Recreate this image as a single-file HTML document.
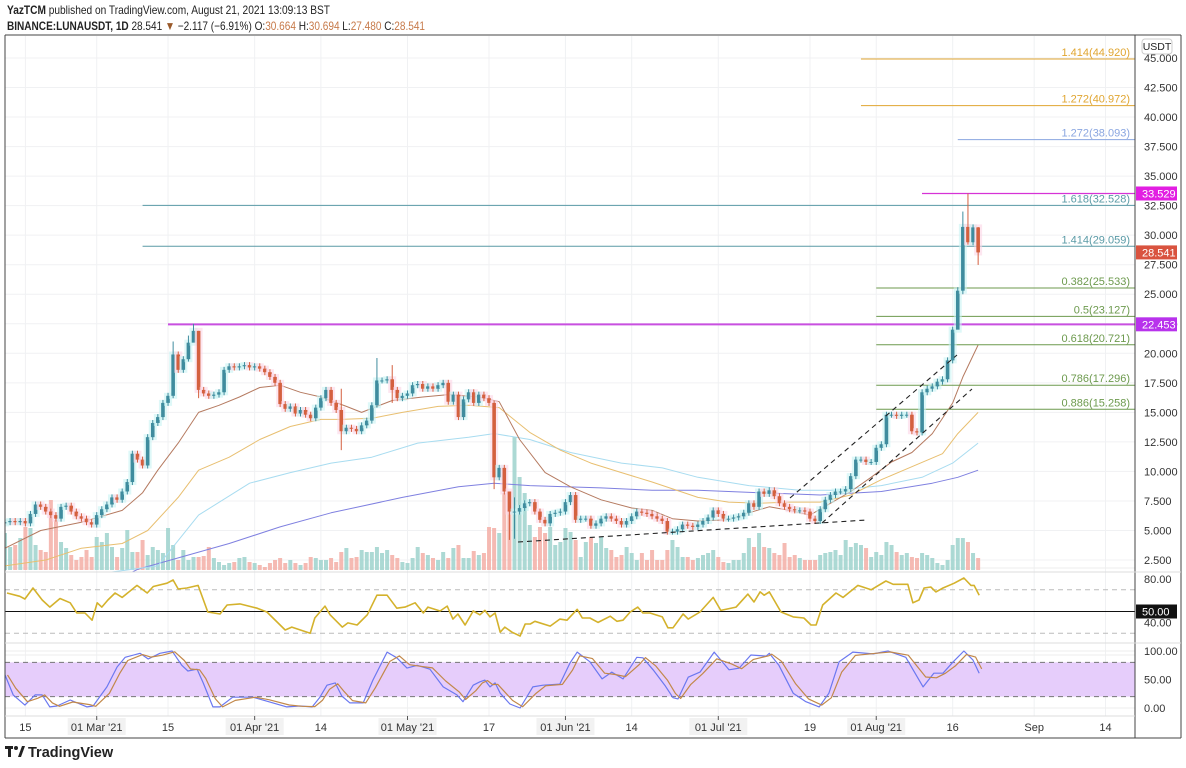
<!DOCTYPE html>
<html><head><meta charset="utf-8">
<style>
html,body{margin:0;padding:0;background:#fff;}
svg{display:block;font-family:"Liberation Sans",sans-serif;}
</style></head>
<body>
<svg id="chart" width="1186" height="768" viewBox="0 0 1186 768" xmlns="http://www.w3.org/2000/svg">
  <rect x="0" y="0" width="1186" height="768" fill="#fff"/>
  <text x="7" y="14" font-size="12" fill="#222" textLength="323" lengthAdjust="spacingAndGlyphs"><tspan font-weight="bold">YazTCM</tspan> published on TradingView.com, August 21, 2021 13:09:13 BST</text>
  <text x="7" y="30" font-size="12" fill="#222" textLength="418" lengthAdjust="spacingAndGlyphs"><tspan font-weight="bold">BINANCE:LUNAUSDT, 1D</tspan>  28.541 <tspan fill="#9a5a2a">▼</tspan> −2.117 (−6.91%) O:<tspan fill="#c77a4a">30.664</tspan> H:<tspan fill="#c77a4a">30.694</tspan> L:<tspan fill="#c77a4a">27.480</tspan> C:<tspan fill="#c77a4a">28.541</tspan></text>
  <g id="grid"></g>
  <defs>
    <clipPath id="mainClip"><rect x="5" y="36" width="1130" height="536"/></clipPath>
    <clipPath id="rsiClip"><rect x="5" y="573" width="1130" height="70"/></clipPath>
    <clipPath id="stClip"><rect x="5" y="644" width="1130" height="72"/></clipPath>
  </defs>
  <g id="stochBand"></g>
  <g id="volumes" clip-path="url(#mainClip)"></g>
  <g id="mas" clip-path="url(#mainClip)"></g>
  <g id="levels"></g>
  <g id="candles" clip-path="url(#mainClip)"></g>
  <g id="trend"></g>
  <g id="rsi" clip-path="url(#rsiClip)"></g>
  <g id="stoch" clip-path="url(#stClip)"></g>
  <g id="frame"></g>
  <g id="axes"></g>
  <g>
    <rect x="5" y="746" width="8" height="3" fill="#222"/><rect x="8" y="746" width="3" height="11" fill="#222"/>
    <circle cx="16" cy="748" r="2" fill="#222"/><polygon points="18,757 22,746 25,746 21,757" fill="#222"/>
    <text x="28" y="757" font-size="14.5" font-weight="bold" fill="#222">TradingView</text>
  </g>
</svg>
<script>
const closes=[5.7,5.8,5.7,5.8,5.6,6.4,7.2,7.0,6.6,6.3,6.0,7.0,7.1,6.6,6.2,6.0,5.7,5.5,
6.3,6.8,7.2,7.8,7.6,8.3,9.1,11.5,11.0,10.5,12.9,14.1,14.6,15.8,
16.4,19.9,18.6,19.5,20.9,21.9,16.9,16.6,16.4,16.5,16.7,18.6,18.9,18.8,18.9,19.0,18.8,18.9,
18.7,18.4,18.0,17.5,15.7,15.3,15.5,14.9,15.2,14.8,14.5,15.4,16.2,16.9,15.8,15.2,13.4,13.7,13.6,13.4,
13.9,14.3,15.6,17.7,17.7,17.8,16.9,16.2,16.4,16.6,17.3,17.4,17.0,17.2,17.0,17.3,17.5,15.9,16.5,14.6,
16.1,16.7,15.8,16.5,16.2,15.8,9.5,10.3,8.3,6.6,6.6,6.9,7.3,7.4,6.6,5.9,5.6,6.4,6.5,6.6,
7.4,8.0,5.9,6.0,6.0,5.4,5.6,6.0,6.2,6.0,5.8,5.5,5.8,6.2,6.6,6.5,6.4,6.2,6.0,5.8,
4.9,4.9,5.1,5.5,5.4,5.3,5.5,5.8,6.1,6.7,6.4,6.0,6.0,6.1,6.2,6.5,7.3,7.0,8.3,8.1,
8.4,7.9,7.3,7.0,6.8,6.7,6.7,6.6,6.0,5.8,6.8,7.6,8.0,8.3,8.3,8.5,9.6,11.0,11.0,10.8,
10.8,12.0,12.3,14.8,14.8,14.7,14.8,14.8,13.4,13.3,16.7,17.0,17.2,17.6,17.8,19.4,22.0,25.3,30.7,29.4,
30.66,28.54];
const firstOpen=5.6;
const wickIdx=[33,36,37,38,66,73,76,96,99,100,187,188,189,191];
const wickHigh=[21.0,21.5,22.5,21.9,17.0,19.6,19.0,16.0,8.3,7.8,25.6,32.0,33.53,30.69];
const wickLow=[16.2,19.3,21.0,16.2,11.8,15.4,15.8,8.5,4.2,4.3,22.4,25.0,29.2,27.48];
const volumes=[37,23,25,32,43,42,25,20,18,70,50,28,22,15,10,13,20,13,33,28,37,23,13,22,40,18,18,30,15,23,20,17,42,25,10,20,10,13,13,14,23,12,8,5,7,8,12,13,8,7,5,3,7,10,12,7,10,7,5,7,13,12,10,
10,12,8,18,22,12,13,20,18,18,23,17,20,15,12,8,7,12,23,17,15,12,10,18,12,22,25,12,12,19,15,17,43,42,37,77,60,133,93,77,45,33,43,37,43,25,28,42,38,30,13,28,33,27,33,22,20,13,15,23,17,10,
17,10,20,10,10,20,30,23,13,13,10,12,15,17,20,13,8,7,10,10,17,32,23,37,23,22,17,15,27,13,15,12,10,10,10,15,17,18,20,15,30,23,27,25,22,13,18,15,28,25,18,15,17,13,12,17,15,12,7,5,10,25,32,32,28,17,12];
const ma20Day=[0,7,15,23,27,30,34,38,42,46,50,54,58,62,67,70,73,76,82,87,93,97,101,106,111,117,123,127,131,136,142,146,150,154,158,162,166,170,174,178,182,186,188,191];
const ma20Val=[3.5,5.0,5.7,6.7,8.2,10.1,12.4,15.0,15.6,16.3,17.1,17.3,16.7,16.3,15.5,15.0,15.5,16.0,16.3,16.5,16.3,15.9,12.7,9.9,8.7,7.6,6.9,6.7,6.0,5.8,5.9,6.5,7.0,6.7,6.3,7.3,8.3,9.5,10.8,11.6,13.2,15.8,18.0,20.7];
const ma50Day=[0,8,15,23,28,34,38,44,50,56,62,66,72,78,85,91,97,103,109,115,121,127,136,142,148,154,160,166,172,178,184,187,191];
const ma50Val=[2.0,2.5,3.5,3.9,5.0,7.8,10.1,11.2,12.7,13.8,14.4,14.4,14.5,15.0,15.5,15.6,15.4,13.3,11.8,10.7,9.9,9.1,7.8,7.4,7.3,7.4,7.4,8.0,9.3,10.4,11.5,13.2,15.0];
const ma100Day=[0,30,38,48,56,64,72,81,91,96,103,111,121,129,136,146,156,163,172,180,186,191];
const ma100Val=[0.3,2.0,6.3,9.0,9.9,10.7,11.2,12.4,12.9,13.2,12.7,11.6,10.7,10.3,9.5,8.8,8.4,8.4,8.8,9.5,10.7,12.4];
const ma200Day=[19,26,44,54,64,78,89,96,103,117,127,136,148,160,172,182,187,191];
const ma200Val=[0.2,1.7,3.9,5.3,6.5,7.8,8.7,9.0,8.8,8.6,8.4,8.4,8.2,8.0,8.3,9.0,9.5,10.1];
const rsiDay=[0.4,2.9,3.9,5.5,7.3,8.8,10.8,12.8,14.1,15.7,17.1,18.1,19.0,20.2,21.6,23.0,25.9,27.9,29.1,31.8,33.0,34.0,35.7,37.9,39.8,42.2,43.6,46.1,49.5,51.4,55.0,56.3,59.9,60.8,62.8,63.8,66.2,67.3,69.1,71.1,73.0,75.0,76.9,78.5,80.5,82.1,83.0,85.4,86.8,87.9,88.9,90.3,91.9,93.2,94.2,95.2,96.2,97.2,98.1,99.5,101.1,102.1,103.1,104.0,107.0,108.9,110.3,112.3,113.3,114.8,116.4,118.8,120.1,121.3,122.7,124.2,125.2,126.6,129.0,130.1,131.1,133.1,134.1,136.4,139.0,140.5,143.5,145.8,147.0,148.2,149.0,150.0,152.3,154.7,156.8,158.2,159.2,160.5,163.1,164.5,167.4,170.0,172.9,174.3,177.2,178.2,179.4,180.4,181.7,182.7,184.1,186.3,188.2,189.6,190.2,191.2];
const rsiVal=[67,64,61.5,71.6,60.6,54,62,58,48.6,48.6,42,58,54,60.6,67,63,74,67,73,76,79,70.7,71.6,74,49.5,47.7,56,57,53,49.5,33,35.7,30,44,55,47,35.7,39.5,37.6,47,65,65,53,54,58,48.6,54,50.5,55,43,47.7,37.6,50.5,47,51,45,48.6,31,35.7,31,27.5,38.5,38.5,41,36.6,43,42,52,44,44,40,45.7,41,42,49.5,54,48.6,48.6,45,35,35,47.7,43,49.5,63,51,54,66,58.7,68,65,68,49.5,45,44,37.6,37.6,56,67,63,74,70,78,75,75,58,60.6,71.6,72.5,68,71.6,76,80.8,74,74,65];
const stDay=[0,1.6,3.9,5.9,7.3,8.8,10.2,12.8,16.1,17.3,20.0,22.0,23.6,26.5,28.1,30.4,32.8,34.7,35.9,37.7,38.9,40.8,42.2,44.7,48.7,51.4,55.3,57.9,60.3,61.8,63.2,64.8,66.1,67.7,70.3,72.2,75.0,76.9,78.9,80.9,83.4,86.0,88.7,89.9,91.9,93.2,94.2,95.2,96.2,97.2,99.1,101.1,103.6,105.6,108.9,110.9,112.3,114.8,117.2,119.1,121.3,124.0,125.2,127.2,129.5,131.1,132.1,134.1,136.4,139.2,142.1,144.1,146.4,149.4,150.0,151.9,154.7,157.2,159.8,161.7,163.7,166.4,170.4,173.3,176.8,180.2,182.3,184.1,186.1,188.2,190.0,191.2];
const stK=[58,23,5,23,23,2,3.5,14,2,3.5,37,72,89,96,86,96,100,75,65,68,44,2,2,19,19,12,2,3.5,2,19,40,44,21,9,9,49,98,88,70,75,68,37,23,11,40,46,49,37,44,26,7,0,37,40,42,79,98,81,51,63,51,89,88,67,40,18,16,54,63,98,67,70,93,91,96,75,26,11,2,26,81,98,95,100,89,37,61,61,81,100,84,61];
const priceTicks=[45,42.5,40,37.5,35,32.5,30,27.5,25,22.5,20,17.5,15,12.5,10,7.5,5,2.5];
const dateLabels=["15","01 Mar '21","15","01 Apr '21","14","01 May '21","17","01 Jun '21","14","01 Jul '21","19","01 Aug '21","16","Sep","14"];
const dateDays=[4,18,32,49,62,79,95,110,123,140,158,171,186,202,216];
const fibPrices=[44.920,40.972,38.093,32.528,29.059,25.533,23.127,20.721,17.296,15.258];
const fibLabels=["1.414(44.920)","1.272(40.972)","1.272(38.093)","1.618(32.528)","1.414(29.059)","0.382(25.533)","0.5(23.127)","0.618(20.721)","0.786(17.296)","0.886(15.258)"];
const fibStartDay=[168,168,187,27,27,171,171,171,171,171];
const fibColors=["#e0a530","#e0a530","#8aa6e0","#5a9aa6","#5a9aa6","#6d9a4e","#6d9a4e","#6d9a4e","#6d9a4e","#6d9a4e"];

const NS="http://www.w3.org/2000/svg";
function mk(tag,attrs,parent){const e=document.createElementNS(NS,tag);for(const k in attrs)e.setAttribute(k,attrs[k]);parent.appendChild(e);return e;}
const xD=d=>5+d*5.095;
const yP=p=>560-(p-2.5)*11.8118;
const yR=v=>611.5-(v-50)*1.0875;
const yS=v=>708-v*0.57;
const G=id=>document.getElementById(id);

const grid=G('grid');
priceTicks.forEach(p=>{const l=mk('line',{x1:5,x2:1135,y1:yP(p),y2:yP(p),stroke:'#f0f1f3','stroke-width':1},grid);

});
dateDays.forEach(d=>{const l=mk('line',{x1:xD(d),x2:xD(d),y1:36,y2:716,stroke:'#f0f1f3','stroke-width':1},grid);

});
[yR(70),yR(30)].forEach(y=>{const l=mk('line',{x1:5,x2:1135,y1:y,y2:y,stroke:'#bbb','stroke-dasharray':'5,4'},grid);

});
[yR(90),yR(10)].forEach(y=>{const l=mk('line',{x1:5,x2:1135,y1:y,y2:y,stroke:'#eee'},grid);

});

const sb=G('stochBand');
const band=mk('rect',{x:5,y:yS(80),width:1130,height:yS(20)-yS(80),fill:'#e6cdfb'},sb);


[80,20].forEach(v=>{const l=mk('line',{x1:5,x2:1135,y1:yS(v),y2:yS(v),stroke:'#777','stroke-dasharray':'5,4'},sb);

});
[100,0].forEach(v=>{const l=mk('line',{x1:5,x2:1135,y1:yS(v),y2:yS(v),stroke:'#eee'},sb);

});

const vg=G('volumes'),cg=G('candles');
for(let i=0;i<closes.length;i++){
  const o=i?closes[i-1]:firstOpen,c=closes[i],up=c>=o,x=xD(i);
  const v=volumes[i]||0;
  const vb=mk('rect',{x:x-2,y:570-v,width:4,height:v,fill:up?'#9dd2cc':'#f3aea6',opacity:0.85},vg);
  
  
  let hi=Math.max(o,c),lo=Math.min(o,c);
  const w=wickIdx.indexOf(i);
  const hiY=w>=0?yP(wickHigh[w]):yP(hi)-3, loY=w>=0?yP(wickLow[w]):yP(lo)+3;
  const col=up?'#3f8c9e':'#d4603f';
  const glow=mk('rect',{x:x-4,y:yP(hi)-3,width:8,height:Math.max(6,yP(lo)-yP(hi)+6),fill:up?'#c8f4f4':'#fbd6e6',opacity:0.6},cg);
  
  
  const wk=mk('line',{x1:x,x2:x,y1:hiY,y2:loY,stroke:col,'stroke-width':1},cg);
  
  
  const bd=mk('rect',{x:x-1.8,y:yP(hi),width:3.6,height:Math.max(1,yP(lo)-yP(hi)),fill:col},cg);
  
  
}

const mg=G('mas');
function poly(days,vals,yf,color,g,name,sw){
  const pts=days.map((d,i)=>xD(d).toFixed(1)+','+yf(vals[i]).toFixed(1)).join(' ');
  const p=mk('polyline',{points:pts,fill:'none',stroke:color,'stroke-width':sw||1,'stroke-linejoin':'round'},g);
  
  
  return p;
}
poly(ma200Day,ma200Val,yP,'#7f80e0',mg,'ma-200');
poly(ma100Day,ma100Val,yP,'#a8dcf0',mg,'ma-100');
poly(ma50Day,ma50Val,yP,'#e8bf70',mg,'ma-50');
poly(ma20Day,ma20Val,yP,'#b57a60',mg,'ma-20');

const lg=G('levels');
fibPrices.forEach((p,i)=>{
  const y=yP(p);
  const l=mk('line',{x1:xD(fibStartDay[i]),x2:1135,y1:y,y2:y,stroke:fibColors[i],'stroke-width':1},lg);
  
  
  const t=mk('text',{x:1130,y:y-3,'text-anchor':'end','font-size':11,fill:fibColors[i]},lg);
  t.textContent=fibLabels[i];
  
  
});
const resistanceTop=33.529, support=22.453, lastPrice=28.541;
const r1=mk('line',{x1:922,x2:1135,y1:yP(resistanceTop),y2:yP(resistanceTop),stroke:'#d633d6','stroke-width':1.2},lg);


const s1=mk('line',{x1:168,x2:1135,y1:yP(support),y2:yP(support),stroke:'#c94fe0','stroke-width':2},lg);



const tg=G('trend');
[[518,542,867,520],[790,498,957,355],[822,523,972,389]].forEach(s=>{
  const l=mk('line',{x1:s[0],y1:s[1],x2:s[2],y2:s[3],stroke:'#222','stroke-width':1.1,'stroke-dasharray':'5,4'},tg);
  
  
});

const rg=G('rsi');
const mid=mk('line',{x1:5,x2:1135,y1:yR(50),y2:yR(50),stroke:'#111','stroke-width':1},rg);


poly(rsiDay,rsiVal,yR,'#d4b22c',rg,'rsi-line',1.6);

const sg=G('stoch');
const stD=stK.map((v,i)=>{const b=stK[Math.max(0,i-1)];return (b+v*2)/3;});
poly(stDay,stK,yS,'#6b78f0',sg,'stoch-k-line',1.2);
poly(stDay.map(d=>d+0.5),stD,yS,'#c2884a',sg,'stoch-d-line',1.2);

const fg=G('frame');
[[5,35,1181,35],[5,35,5,738],[1181,35,1181,738],[5,738,1181,738],[1135,35,1135,738],[5,572,1181,572],[5,643,1181,643],[5,716,1135,716]].forEach(s=>{
  const l=mk('line',{x1:s[0],y1:s[1],x2:s[2],y2:s[3],stroke:s[0]===5&&s[2]===5||s[1]===738||s[1]===35||s[0]===1181?'#444':'#ddd','stroke-width':1},fg);
  
  
});

const ag=G('axes');
priceTicks.forEach(p=>{
  const t=mk('text',{x:1144,y:yP(p)+4,'font-size':11,fill:'#333'},ag);
  t.textContent=p.toFixed(3);
  
  
});
const ub=mk('rect',{x:1142,y:39,width:30,height:15,rx:3,fill:'#fff',stroke:'#ccc'},ag);


const ut=mk('text',{x:1157,y:50,'text-anchor':'middle','font-size':10.5,fill:'#222'},ag);
ut.textContent='USDT';


function tag(price,txt,color,name,yf){
  const y=(yf||yP)(price);
  const r=mk('rect',{x:1136,y:y-7,width:41,height:14,fill:color},ag);
  
  
  const t=mk('text',{x:1142,y:y+4,'font-size':11,fill:'#fff'},ag);
  t.textContent=txt;
  
  
}
tag(resistanceTop,'33.529','#e21ee2','resistance-price-tag');
tag(lastPrice,'28.541','#d9533f','last-price-tag');
tag(support,'22.453','#b832ec','support-price-tag');
[[80,'80.00'],[40,'40.00']].forEach(a=>{const t=mk('text',{x:1144,y:yR(a[0])+4,'font-size':11,fill:'#333'},ag);t.textContent=a[1];

});
tag(50,'50.00','#111','rsi-50-tag',yR);
[[100,'100.00'],[50,'50.00'],[0,'0.00']].forEach(a=>{const t=mk('text',{x:1144,y:yS(a[0])+4,'font-size':11,fill:'#333'},ag);t.textContent=a[1];

});
dateLabels.forEach((s,i)=>{
  const x=xD(dateDays[i]);
  if(s.length>4){const b=mk('rect',{x:x-29,y:718,width:58,height:17,fill:'#f2f2f2'},ag);
  
  
  const tk=mk('line',{x1:x,x2:x,y1:716,y2:720,stroke:'#555'},ag);
  
  }
  const t=mk('text',{x:x,y:731,'text-anchor':'middle','font-size':11,fill:'#333'},ag);
  t.textContent=s;
  
  
});
</script>
</body></html>
